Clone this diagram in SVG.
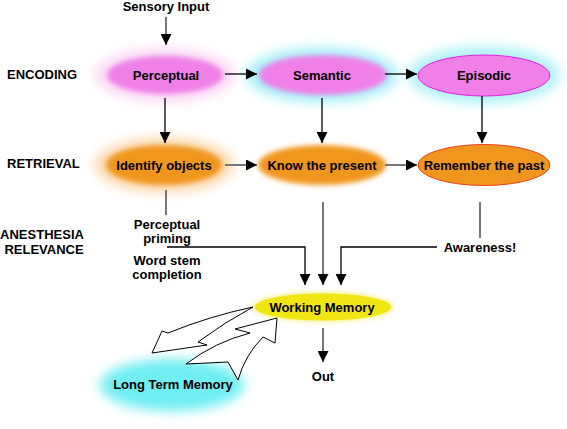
<svg xmlns="http://www.w3.org/2000/svg" width="567" height="429" viewBox="0 0 567 429">
<defs>
<style>
text{font-family:"Liberation Sans",Arial,sans-serif;font-size:13px;font-weight:bold;fill:#000}
.c{text-anchor:middle}
.k{stroke:#000;stroke-width:1.3;fill:none}
.g{stroke:#777;stroke-width:2;fill:none}
.pink{fill:#f080e8}
.orange{fill:#f0961e}
</style>
<filter id="b2" x="-50%" y="-50%" width="200%" height="200%"><feGaussianBlur stdDeviation="2.5"/></filter>
<filter id="b5" x="-50%" y="-50%" width="200%" height="200%"><feGaussianBlur stdDeviation="6"/></filter>
<marker id="ah" markerUnits="userSpaceOnUse" markerWidth="11" markerHeight="11" refX="11" refY="5.5" orient="auto">
<path d="M0,0 L11,5.5 L0,11 Z" fill="#000"/>
</marker>
</defs>
<rect width="567" height="429" fill="#fff"/>

<g id="labels">
<text x="7" y="79">ENCODING</text>
<text x="7" y="168">RETRIEVAL</text>
<text class="c" x="42" y="239">ANESTHESIA</text>
<text class="c" x="44" y="254">RELEVANCE</text>
</g>

<g id="sensory-input"><text class="c" x="166" y="11">Sensory Input</text></g>

<g id="perceptual">
<ellipse cx="165" cy="75" rx="70" ry="27" fill="#fbd8f4" filter="url(#b5)"/>
<ellipse class="pink" cx="165" cy="75" rx="58" ry="19" filter="url(#b2)"/>
<text class="c" x="166" y="80">Perceptual</text>
</g>
<g id="semantic">
<ellipse cx="322" cy="75" rx="76" ry="28" fill="#a8f0f6" filter="url(#b5)"/>
<ellipse class="pink" cx="323" cy="75" rx="64" ry="20" filter="url(#b2)"/>
<text class="c" x="322" y="80">Semantic</text>
</g>
<g id="episodic">
<ellipse cx="484" cy="75" rx="76" ry="29" fill="#b0f2f6" filter="url(#b5)"/>
<ellipse class="pink" cx="484" cy="75.5" rx="66" ry="20.5" stroke="#e020e0" stroke-width="1"/>
<text class="c" x="484" y="80">Episodic</text>
</g>

<g id="identify-objects">
<ellipse cx="164" cy="165" rx="70" ry="28" fill="#fbd9b0" filter="url(#b5)"/>
<ellipse class="orange" cx="164" cy="165" rx="58" ry="20" filter="url(#b2)"/>
<text class="c" x="164" y="170">Identify objects</text>
</g>
<g id="know-the-present">
<ellipse class="orange" cx="322" cy="165" rx="64" ry="20" filter="url(#b2)"/>
<text class="c" x="322" y="170">Know the present</text>
</g>
<g id="remember-the-past">
<ellipse class="orange" cx="484" cy="165" rx="66" ry="20.5" stroke="#f04020" stroke-width="1"/>
<text class="c" x="484" y="170">Remember the past</text>
</g>

<g id="perceptual-priming">
<text class="c" x="167" y="229">Perceptual</text>
<text class="c" x="167" y="243">priming</text>
</g>
<g id="word-stem">
<text class="c" x="167" y="264.5">Word stem</text>
<text class="c" x="167" y="278.5">completion</text>
</g>
<g id="awareness"><text class="c" x="480" y="252">Awareness!</text></g>

<g id="working-memory">
<ellipse cx="323" cy="307" rx="70" ry="14.5" fill="#f0e614" filter="url(#b2)" opacity="0.6"/>
<ellipse cx="323" cy="307" rx="68" ry="13.5" fill="#f0e614"/>
<text class="c" x="322" y="312">Working Memory</text>
</g>
<g id="out"><text class="c" x="323" y="381">Out</text></g>

<g id="long-term-memory">
<ellipse cx="172" cy="385" rx="72" ry="26" fill="#70eef2" filter="url(#b5)"/>
<text class="c" x="173" y="389">Long Term Memory</text>
</g>

<g id="connectors">
<line class="g" x1="166" y1="17" x2="166" y2="45" marker-end="url(#ah)"/>
<line class="k" x1="225" y1="74" x2="257" y2="74" marker-end="url(#ah)"/>
<line class="k" x1="385" y1="74" x2="417" y2="74" marker-end="url(#ah)"/>
<line class="k" x1="165" y1="98" x2="165" y2="143" marker-end="url(#ah)"/>
<line class="k" x1="322" y1="98" x2="322" y2="143" marker-end="url(#ah)"/>
<line class="k" x1="482" y1="96" x2="482" y2="143" marker-end="url(#ah)"/>
<line class="g" x1="225" y1="165" x2="257" y2="165" marker-end="url(#ah)"/>
<line class="g" x1="385" y1="165" x2="417" y2="165" marker-end="url(#ah)"/>
<line class="g" x1="166" y1="190" x2="166" y2="215"/>
<line class="g" x1="480" y1="202" x2="480" y2="238"/>
<polyline class="k" points="167,247 305,247 305,285" marker-end="url(#ah)"/>
<line class="g" x1="323" y1="202" x2="323" y2="285" marker-end="url(#ah)"/>
<polyline class="k" points="437,247 341,247 341,285" marker-end="url(#ah)"/>
<line class="g" x1="323" y1="328" x2="323" y2="362" marker-end="url(#ah)"/>
<path d="M253,307 Q210,316 168,333 L162,331 L152,353 L207,345 L198,342 Q225,322 253,307 Z" fill="#fff" stroke="#000" stroke-width="1"/>
<path d="M186,364 Q215,342 250,333 L235,329 L277,318 L275,343 L263,337 Q245,355 238,380 L228,362 Z" fill="#fff" stroke="#000" stroke-width="1"/>
</g>
</svg>
